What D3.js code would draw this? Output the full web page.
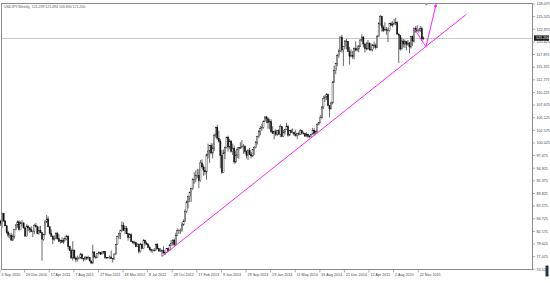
<!DOCTYPE html>
<html>
<head>
<meta charset="utf-8">
<script src="https://cdn.jsdelivr.net/npm/d3@7/dist/d3.min.js"></script>
<style>
  body { margin: 0; background: #fff; }
  text { font-family: "Liberation Sans", Arial, sans-serif; }
</style>
</head>
<body>
<div id="chart"></div>
<script>
// USDJPY weekly bars, first bar = week of 5 Sep 2010
const opens = [
  84.2, 83.8, 85.8, 84.3, 83.3, 82.0, 81.4, 81.4, 80.4, 81.2,
  82.5, 83.5, 84.1, 82.6, 83.9, 83.9, 82.9, 81.2, 83.2, 82.9,
  82.5, 82.1, 82.2, 83.4, 83.1, 81.7, 82.3, 81.9, 80.6, 81.6,
  84.1, 84.7, 83.1, 81.8, 81.2, 80.6, 80.7, 81.7, 80.7, 80.1,
  80.3, 80.0, 80.3, 80.7, 81.2, 79.1, 78.3, 76.8, 78.4, 76.8,
  76.5, 76.7, 76.8, 77.6, 76.7, 76.6, 77.0, 76.7, 76.9, 76.2,
  75.8, 78.0, 77.0, 76.9, 77.7, 77.9, 77.6, 77.8, 78.1, 76.9,
  76.9, 76.9, 77.0, 76.7, 76.6, 77.6, 79.5, 81.2, 81.8, 82.4,
  83.4, 82.4, 82.8, 81.7, 80.9, 81.5, 80.1, 79.9, 79.9, 79.1,
  79.6, 78.1, 79.6, 78.7, 80.4, 79.8, 79.6, 78.9, 78.5, 78.3,
  78.4, 78.3, 79.6, 78.7, 78.2, 78.2, 78.4, 77.8, 77.9, 78.7,
  78.3, 79.3, 79.8, 80.4, 79.5, 81.4, 82.4, 82.4, 82.4, 83.5,
  84.2, 86.2, 88.1, 89.2, 90.0, 90.8, 92.7, 92.7, 93.5, 93.5,
  92.4, 96.0, 95.2, 94.5, 94.2, 97.6, 98.4, 99.5, 98.0, 99.0,
  101.6, 103.2, 101.0, 100.4, 97.5, 94.1, 98.0, 99.1, 101.2, 99.2,
  100.4, 98.3, 98.9, 96.2, 97.6, 98.7, 99.1, 99.1, 99.4, 99.4,
  98.3, 97.5, 98.6, 97.7, 97.4, 98.7, 99.1, 100.2, 101.3, 102.4,
  102.9, 103.2, 104.4, 105.3, 104.9, 104.1, 104.3, 102.3, 102.0, 102.3,
  101.8, 102.5, 101.8, 103.3, 101.3, 102.2, 102.8, 103.3, 101.6, 102.5,
  102.1, 102.2, 101.8, 101.5, 101.9, 101.8, 102.5, 102.0, 101.9, 101.4,
  101.8, 101.3, 101.3, 101.8, 102.6, 102.0, 102.4, 103.8, 104.1, 105.1,
  107.3, 109.0, 109.3, 109.8, 107.6, 106.9, 108.1, 112.3, 114.6, 116.1,
  117.7, 118.6, 121.4, 118.8, 119.5, 120.6, 120.5, 118.5, 117.5, 117.7,
  117.5, 119.1, 118.8, 119.0, 119.6, 120.8, 121.4, 120.0, 119.1, 119.0,
  120.2, 118.9, 118.9, 119.8, 119.7, 119.3, 121.5, 124.1, 125.6, 123.4,
  122.7, 122.9, 122.8, 122.7, 124.1, 123.8, 123.9, 124.2, 124.3, 122.0,
  121.7, 119.0, 120.6, 120.0, 120.5, 119.9, 120.2, 119.4, 121.5, 120.6,
  123.2, 122.6, 122.8, 122.8, 123.1, 121.239
];
const highs = [
  84.5, 85.95, 85.9, 84.5, 83.5, 82.3, 81.9, 81.9, 81.6, 82.5,
  83.6, 84.4, 84.4, 84.2, 84.5, 84.0, 83.1, 83.6, 83.5, 83.0,
  83.2, 82.4, 83.7, 83.9, 83.3, 83.2, 83.3, 82.0, 81.7, 84.5,
  85.5, 85.2, 83.3, 82.6, 81.4, 81.4, 82.0, 82.1, 81.6, 80.5,
  81.0, 80.8, 81.3, 81.5, 81.4, 79.3, 78.7, 80.2, 78.5, 77.1,
  77.3, 77.1, 77.8, 77.7, 76.8, 77.2, 77.1, 77.3, 77.0, 76.3,
  79.5, 78.2, 77.3, 77.8, 78.2, 78.0, 78.2, 78.2, 78.2, 77.0,
  77.0, 77.3, 78.3, 76.8, 77.7, 79.6, 81.3, 81.9, 82.5, 84.18,
  84.0, 83.3, 83.3, 81.8, 81.8, 81.8, 80.3, 80.3, 80.1, 79.8,
  79.7, 79.9, 79.7, 80.6, 80.5, 80.1, 79.8, 79.3, 78.7, 78.6,
  78.8, 79.7, 79.8, 78.8, 78.8, 78.5, 79.2, 78.1, 78.8, 78.9,
  79.6, 80.4, 80.6, 80.7, 81.9, 82.8, 82.6, 82.8, 84.0, 84.6,
  86.6, 88.4, 89.4, 90.2, 91.0, 92.9, 94.1, 94.5, 94.8, 94.8,
  96.6, 96.7, 95.7, 95.2, 97.9, 99.9, 99.6, 100.0, 99.9, 101.9,
  103.3, 103.7, 102.5, 100.8, 98.6, 98.7, 99.3, 101.3, 101.5, 100.9,
  100.6, 99.9, 99.5, 98.5, 99.2, 99.2, 100.2, 100.6, 99.8, 99.5,
  98.5, 98.7, 99.0, 98.2, 98.8, 99.4, 100.4, 101.5, 102.6, 103.4,
  103.9, 104.6, 105.4, 105.44, 105.2, 104.9, 104.8, 103.4, 102.6, 102.8,
  102.6, 102.8, 103.8, 103.4, 102.7, 102.9, 104.1, 103.7, 102.6, 102.8,
  103.0, 102.3, 102.7, 102.0, 102.3, 102.8, 102.7, 102.3, 102.1, 102.2,
  101.9, 101.6, 101.9, 103.1, 103.0, 102.6, 104.1, 104.3, 105.7, 107.4,
  109.5, 109.7, 110.1, 109.9, 107.7, 108.4, 112.5, 115.6, 116.2, 118.0,
  118.9, 121.5, 121.85, 119.6, 120.8, 121.0, 120.6, 119.4, 118.9, 118.6,
  119.3, 120.5, 119.7, 119.8, 121.0, 122.0, 121.6, 120.2, 120.4, 120.8,
  120.3, 120.1, 120.0, 120.5, 120.1, 121.8, 124.4, 125.86, 125.7, 123.8,
  124.4, 123.4, 123.3, 124.2, 124.5, 124.6, 125.1, 125.3, 124.6, 122.2,
  121.8, 121.3, 121.0, 120.9, 120.6, 120.8, 120.4, 121.6, 121.7, 123.3,
  123.6, 123.8, 123.1, 123.7, 123.5, 121.494
];
const lows = [
  83.3, 82.9, 84.1, 83.2, 81.7, 80.9, 80.8, 80.4, 80.2, 80.7,
  82.4, 82.9, 82.3, 82.6, 83.2, 82.7, 81.2, 81.2, 82.2, 81.9,
  82.0, 81.0, 81.6, 83.0, 81.6, 81.5, 81.8, 76.25, 80.3, 81.4,
  83.9, 83.0, 81.5, 81.1, 79.6, 80.3, 80.6, 80.5, 80.0, 79.7,
  79.9, 79.7, 80.2, 80.4, 78.5, 78.2, 76.7, 76.3, 76.6, 75.95,
  76.1, 76.5, 76.7, 76.5, 76.1, 76.3, 76.4, 76.5, 76.1, 75.6,
  75.56, 76.9, 76.6, 76.8, 77.5, 77.4, 77.5, 77.7, 76.6, 76.6,
  76.7, 76.6, 76.6, 75.9, 76.5, 77.5, 79.4, 80.6, 80.6, 82.1,
  82.3, 81.6, 81.6, 80.3, 80.8, 80.0, 79.7, 79.5, 79.0, 79.0,
  77.7, 77.9, 78.6, 78.6, 79.3, 79.4, 78.8, 78.3, 77.9, 77.9,
  78.1, 78.2, 78.5, 78.1, 78.0, 77.13, 77.7, 77.4, 77.8, 78.0,
  78.2, 79.2, 79.3, 79.1, 79.3, 81.3, 81.7, 81.7, 82.1, 83.3,
  84.1, 85.9, 86.8, 88.1, 88.1, 90.5, 91.8, 92.1, 92.9, 90.9,
  92.2, 94.9, 93.4, 93.6, 92.6, 96.9, 96.0, 97.7, 96.9, 98.4,
  101.1, 100.6, 100.1, 94.9, 93.8, 94.0, 96.8, 98.9, 98.3, 98.8,
  98.1, 97.6, 95.8, 95.9, 97.0, 96.8, 98.8, 98.9, 97.8, 97.9,
  96.9, 96.6, 97.6, 96.9, 97.2, 97.6, 98.9, 99.7, 101.0, 101.6,
  102.5, 102.9, 104.3, 104.0, 102.9, 102.8, 102.0, 101.8, 100.76, 101.4,
  101.4, 101.7, 101.2, 101.2, 101.2, 101.7, 102.7, 101.3, 101.4, 102.0,
  101.9, 101.4, 101.3, 100.8, 101.5, 101.7, 101.7, 101.7, 101.3, 101.3,
  101.1, 101.1, 101.2, 101.7, 101.5, 101.9, 102.3, 103.6, 104.0, 105.0,
  106.9, 108.3, 108.7, 107.4, 105.2, 106.8, 107.8, 112.2, 113.9, 115.5,
  117.2, 118.4, 118.3, 115.57, 119.0, 118.9, 118.4, 115.85, 117.3, 117.0,
  116.9, 118.5, 118.5, 118.3, 119.4, 120.4, 119.3, 118.3, 118.7, 118.9,
  118.6, 118.5, 118.5, 119.2, 118.9, 119.2, 121.4, 123.7, 122.5, 122.4,
  122.6, 121.9, 120.4, 122.5, 123.6, 123.4, 123.8, 123.8, 121.9, 116.15,
  118.6, 118.9, 119.3, 119.2, 118.7, 119.6, 118.1, 119.1, 119.6, 120.3,
  122.3, 122.5, 122.3, 122.4, 120.6, 120.830
];
const closes = [
  83.8, 85.8, 84.3, 83.3, 82.0, 81.4, 81.4, 80.4, 81.2, 82.5,
  83.5, 84.1, 82.6, 83.9, 83.9, 82.9, 81.2, 83.2, 82.9, 82.5,
  82.1, 82.2, 83.4, 83.1, 81.7, 82.3, 81.9, 80.6, 81.6, 84.1,
  84.7, 83.1, 81.8, 81.2, 80.6, 80.7, 81.7, 80.7, 80.1, 80.3,
  80.0, 80.3, 80.7, 81.2, 79.1, 78.3, 76.8, 78.4, 76.8, 76.5,
  76.7, 76.8, 77.6, 76.7, 76.6, 77.0, 76.7, 76.9, 76.2, 75.8,
  78.0, 77.0, 76.9, 77.7, 77.9, 77.6, 77.8, 78.1, 76.9, 76.9,
  76.9, 77.0, 76.7, 76.6, 77.6, 79.5, 81.2, 81.8, 82.4, 83.4,
  82.4, 82.8, 81.7, 80.9, 81.5, 80.1, 79.9, 79.9, 79.1, 79.6,
  78.1, 79.6, 78.7, 80.4, 79.8, 79.6, 78.9, 78.5, 78.3, 78.4,
  78.3, 79.6, 78.7, 78.2, 78.2, 78.4, 77.8, 77.9, 78.7, 78.3,
  79.3, 79.8, 80.4, 79.5, 81.4, 82.4, 82.4, 82.4, 83.5, 84.2,
  86.2, 88.1, 89.2, 90.0, 90.8, 92.7, 92.7, 93.5, 93.5, 92.4,
  96.0, 95.2, 94.5, 94.2, 97.6, 98.4, 99.5, 98.0, 99.0, 101.6,
  103.2, 101.0, 100.4, 97.5, 94.1, 98.0, 99.1, 101.2, 99.2, 100.4,
  98.3, 98.9, 96.2, 97.6, 98.7, 99.1, 99.1, 99.4, 99.4, 98.3,
  97.5, 98.6, 97.7, 97.4, 98.7, 99.1, 100.2, 101.3, 102.4, 102.9,
  103.2, 104.4, 105.3, 104.9, 104.1, 104.3, 102.3, 102.0, 102.3, 101.8,
  102.5, 101.8, 103.3, 101.3, 102.2, 102.8, 103.3, 101.6, 102.5, 102.1,
  102.2, 101.8, 101.5, 101.9, 101.8, 102.5, 102.0, 101.9, 101.4, 101.8,
  101.3, 101.3, 101.8, 102.6, 102.0, 102.4, 103.8, 104.1, 105.1, 107.3,
  109.0, 109.3, 109.8, 107.6, 106.9, 108.1, 112.3, 114.6, 116.1, 117.7,
  118.6, 121.4, 118.8, 119.5, 120.6, 120.5, 118.5, 117.5, 117.7, 117.5,
  119.1, 118.8, 119.0, 119.6, 120.8, 121.4, 120.0, 119.1, 119.0, 120.2,
  118.9, 118.9, 119.8, 119.7, 119.3, 121.5, 124.1, 125.6, 123.4, 122.7,
  122.9, 122.8, 122.7, 124.1, 123.8, 123.9, 124.2, 124.3, 122.0, 121.7,
  119.0, 120.6, 120.0, 120.5, 119.9, 120.2, 119.4, 121.5, 120.6, 123.2,
  122.6, 122.8, 122.8, 123.1, 121.0, 121.200
];

// x axis labels, one every 16 bars
const xTickLabels = ['5 Sep 2010', '26 Dec 2010', '17 Apr 2011', '7 Aug 2011', '27 Nov 2011',
  '18 Mar 2012', '8 Jul 2012', '28 Oct 2012', '17 Feb 2013', '9 Jun 2013', '29 Sep 2013',
  '19 Jan 2014', '11 May 2014', '31 Aug 2014', '21 Dec 2014', '12 Apr 2015', '2 Aug 2015',
  '22 Nov 2015'];
const yTickLabels = ['74.525', '77.075', '79.625', '82.175', '84.725', '87.275', '89.825',
  '92.375', '94.925', '97.475', '100.025', '102.575', '105.125', '107.675', '110.225',
  '112.775', '115.325', '117.875', '120.425', '122.975', '125.525', '128.075'];

const header = 'USDJPY,Weekly  121.239 121.494 120.830 121.200';
const lastPrice = 121.200;

// hand drawn objects (bar index, price)
const trendLine = [{bar: 105, price: 77.13}, {bar: 303, price: 126.0}];
const arrowLine = [{bar: 269, price: 123.17}, {bar: 276.7, price: 119.45}, {bar: 283.2, price: 127.88}];

const width = 550, height = 283;
const plot = {left: 1.5, top: 3.5, right: 532.5, bottom: 269.5};

const svg = d3.select('#chart').append('svg')
  .attr('width', width).attr('height', height);

const x = d3.scaleLinear().domain([0, 346]).range([0.5, 532.5]);
const y = d3.scaleLinear()
  .domain([+yTickLabels[0], +yTickLabels[yTickLabels.length - 1]])
  .range([269.3, 4]);

svg.append('rect').attr('width', width).attr('height', height).attr('fill', '#fff');

// last price line
svg.append('line')
  .attr('x1', plot.left).attr('x2', plot.right)
  .attr('y1', Math.round(y(lastPrice)) + 0.5).attr('y2', Math.round(y(lastPrice)) + 0.5)
  .attr('stroke', '#c8c8c8').attr('stroke-width', 1);

const bars = d3.range(Math.min(opens.length, highs.length, lows.length, closes.length)).map(function(i) {
  return {i: i, o: opens[i], h: highs[i], l: lows[i], c: closes[i]};
});

const candles = svg.append('g').selectAll('g').data(bars).enter().append('g');

candles.append('line')
  .attr('x1', function(d) { return x(d.i); })
  .attr('x2', function(d) { return x(d.i); })
  .attr('y1', function(d) { return y(d.h); })
  .attr('y2', function(d) { return y(d.l); })
  .attr('stroke', '#2a2a2a').attr('stroke-width', 0.7);

candles.append('rect')
  .attr('x', function(d) { return x(d.i) - 0.6; })
  .attr('width', 1.2)
  .attr('y', function(d) { return y(Math.max(d.o, d.c)); })
  .attr('height', function(d) { return Math.max(0.4, Math.abs(y(d.o) - y(d.c))); })
  .attr('fill', function(d) { return d.c >= d.o ? '#fff' : '#111'; })
  .attr('stroke', '#111').attr('stroke-width', 0.4);

// trend line and arrow
const lineGen = d3.line()
  .x(function(d) { return x(d.bar); })
  .y(function(d) { return y(d.price); });

svg.append('defs').append('marker')
  .attr('id', 'head')
  .attr('viewBox', '0 0 10 10')
  .attr('refX', 6).attr('refY', 5)
  .attr('markerWidth', 3.5).attr('markerHeight', 3.5)
  .attr('markerUnits', 'userSpaceOnUse')
  .attr('orient', 'auto')
  .append('path').attr('d', 'M0,0L10,5L0,10z').attr('fill', '#ff22ff');

svg.append('path').datum(trendLine)
  .attr('d', lineGen).attr('fill', 'none')
  .attr('stroke', '#ff22ff').attr('stroke-width', 1);

svg.append('path').datum(arrowLine)
  .attr('d', lineGen).attr('fill', 'none')
  .attr('stroke', '#ff22ff').attr('stroke-width', 1)
  .attr('marker-end', 'url(#head)');

// frame
svg.append('rect')
  .attr('x', plot.left).attr('y', plot.top)
  .attr('width', plot.right - plot.left).attr('height', plot.bottom - plot.top)
  .attr('fill', 'none').attr('stroke', '#8c8c8c').attr('stroke-width', 1);

// shift marker on top border
const sx = x(277);
svg.append('path')
  .attr('d', 'M' + (sx - 1.8) + ',' + plot.top + 'L' + (sx + 1.8) + ',' + plot.top + 'L' + sx + ',' + (plot.top + 2.2) + 'z')
  .attr('fill', '#999');

// y axis
const yAxis = svg.append('g');
yTickLabels.forEach(function(label) {
  const yy = y(+label);
  yAxis.append('line')
    .attr('x1', plot.right).attr('x2', plot.right + 2.5)
    .attr('y1', yy).attr('y2', yy)
    .attr('stroke', '#777').attr('stroke-width', 0.6);
  yAxis.append('text')
    .attr('x', plot.right + 4).attr('y', yy + 1.3)
    .attr('font-size', 3.7).attr('fill', '#444')
    .text(label);
});

// current price tag
svg.append('rect')
  .attr('x', plot.right + 1.5).attr('y', y(lastPrice) - 2.7)
  .attr('width', 15).attr('height', 5.4)
  .attr('fill', '#1c1c1c');
svg.append('text')
  .attr('x', plot.right + 3.5).attr('y', y(lastPrice) + 1.3)
  .attr('font-size', 3.7).attr('fill', '#fff')
  .text(lastPrice.toFixed(3));

// x axis
const xAxis = svg.append('g');
xTickLabels.forEach(function(label, k) {
  const xx = x(k * 16);
  xAxis.append('line')
    .attr('x1', xx - 0.5).attr('x2', xx - 0.5)
    .attr('y1', plot.bottom).attr('y2', plot.bottom + 3)
    .attr('stroke', '#777').attr('stroke-width', 0.6);
  xAxis.append('text')
    .attr('x', xx + 1).attr('y', 276.3)
    .attr('font-size', 3.7).attr('fill', '#444')
    .text(label);
});

// corner marker
svg.append('rect')
  .attr('x', 545.5).attr('y', 265.5).attr('width', 3).attr('height', 11)
  .attr('fill', '#27324a');

// header
svg.append('text')
  .attr('x', 4).attr('y', 7.6)
  .attr('font-size', 3.5).attr('fill', '#555')
  .attr('xml:space', 'preserve')
  .text(header);
</script>
</body>
</html>
